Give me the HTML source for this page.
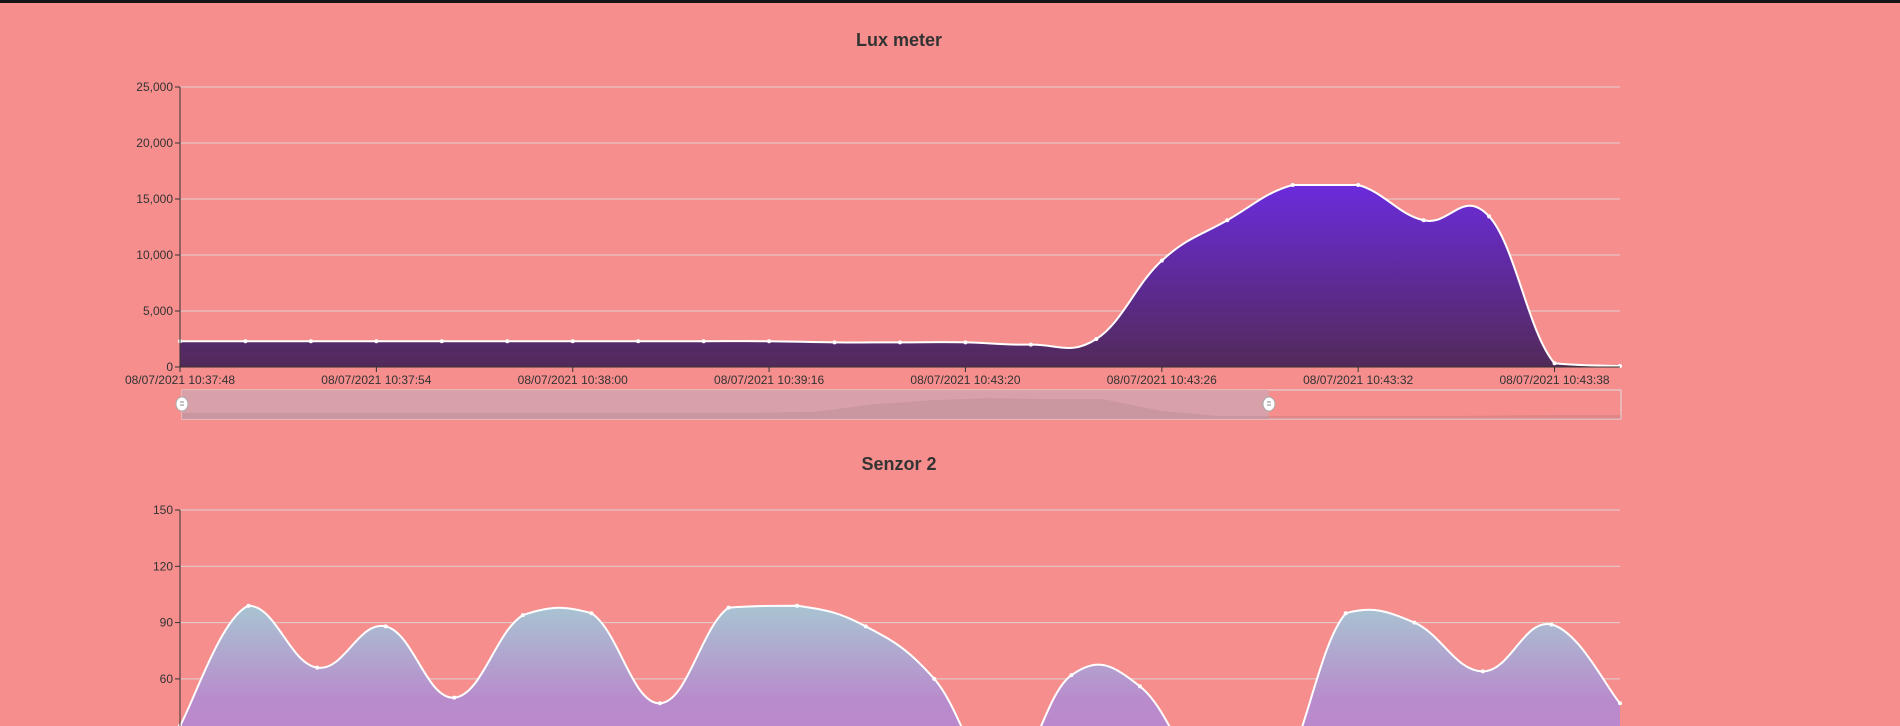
<!DOCTYPE html>
<html><head><meta charset="utf-8">
<style>
html,body{margin:0;padding:0;background:#f68e8e;width:1900px;height:726px;overflow:hidden}
svg{display:block;font-family:"Liberation Sans",sans-serif}
</style></head>
<body>
<svg id="c" width="1900" height="726" viewBox="0 0 1900 726" overflow="hidden">
<defs>
<linearGradient id="g1" x1="0" y1="0" x2="0" y2="1"><stop offset="0" stop-color="#6b2bdc"/><stop offset="1" stop-color="#522a58"/></linearGradient>
<linearGradient id="g2" x1="0" y1="0" x2="0" y2="1"><stop offset="0" stop-color="#a8c4d2"/><stop offset="0.5" stop-color="#b88ccc"/><stop offset="1" stop-color="#c080d0"/></linearGradient>
<clipPath id="clipAll"><rect x="0" y="0" width="1900" height="726"/></clipPath>
</defs>
<g clip-path="url(#clipAll)">
<rect x="0" y="0" width="1900" height="3" fill="#141414"/>
<text x="899" y="46" text-anchor="middle" font-size="18" font-weight="bold" fill="#333">Lux meter</text>
<text x="899" y="470" text-anchor="middle" font-size="18" font-weight="bold" fill="#333">Senzor 2</text>
<g id="ch1"></g>
<g id="sl"></g>
<g id="ch2"></g>
</g>
</svg>
<script>
const luxCategories=["08/07/2021 10:37:48","08/07/2021 10:37:50","08/07/2021 10:37:52","08/07/2021 10:37:54","08/07/2021 10:37:56","08/07/2021 10:37:58","08/07/2021 10:38:00","08/07/2021 10:38:02","08/07/2021 10:39:14","08/07/2021 10:39:16","08/07/2021 10:39:18","08/07/2021 10:43:18","08/07/2021 10:43:20","08/07/2021 10:43:22","08/07/2021 10:43:24","08/07/2021 10:43:26","08/07/2021 10:43:28","08/07/2021 10:43:30","08/07/2021 10:43:32","08/07/2021 10:43:34","08/07/2021 10:43:36","08/07/2021 10:43:38","08/07/2021 10:43:40"];
const luxValues=[2300,2300,2300,2300,2300,2300,2300,2300,2300,2300,2200,2200,2200,2000,2500,9500,13100,16250,16250,13100,13450,330,90];
const luxTicks=[0,5000,10000,15000,20000,25000];
const senzorValues=[35,99,66,88,50,94,95,47,98,99,88,60,5,62,56,5,5,95,90,64,89,47];
const senzorTicks=[60,90,120,150];
const sliderShadow=[20,20,20,20,20,20,20,20,20,20,20,25,60,80,90,85,85,30,5,5,5,5,5,8,10,10];
const NS="http://www.w3.org/2000/svg";
function mk(p,t,a){const e=document.createElementNS(NS,t);for(const k in a)e.setAttribute(k,a[k]);p.appendChild(e);return e;}
function smooth(pts){let d="M"+pts[0][0]+","+pts[0][1];const f=0.2;
const ysAll=pts.map(p=>p[1]),lo=Math.min(...ysAll),hi=Math.max(...ysAll);
const cl=v=>Math.max(lo,Math.min(hi,v));
for(let i=0;i<pts.length-1;i++){const p0=pts[i-1]||pts[i],p1=pts[i],p2=pts[i+1],p3=pts[i+2]||p2;
const c1=[p1[0]+(p2[0]-p0[0])*f,cl(p1[1]+(p2[1]-p0[1])*f)],c2=[p2[0]-(p3[0]-p1[0])*f,cl(p2[1]-(p3[1]-p1[1])*f)];
d+=" C"+c1[0]+","+c1[1]+" "+c2[0]+","+c2[1]+" "+p2[0]+","+p2[1];}return d;}
function chart(g,vals,ticks,ymax,yTop,yZero,grad,cats,fmt,axisBottom){
const x0=180,x1=1620,n=vals.length;
const xs=i=>x0+(x1-x0)*i/(n-1), ys=v=>yZero-(yZero-yTop)*v/ymax;
ticks.forEach(t=>{const y=ys(t);
const l=mk(g,"line",{x1:x0,x2:x1,y1:y,y2:y,stroke:"#e0d0d0","stroke-width":1});

const tk=mk(g,"line",{x1:x0-5,x2:x0,y1:y,y2:y,stroke:"#333"});

const tx=mk(g,"text",{x:x0-7,y:y+4,"text-anchor":"end","font-size":12,fill:"#333"});tx.textContent=fmt(t);
});
const pts=vals.map((v,i)=>[xs(i),ys(v)]);
const line=smooth(pts);
const area=mk(g,"path",{d:line+" L"+x1+","+yZero+" L"+x0+","+yZero+" Z",fill:grad});

const ln=mk(g,"path",{d:line,fill:"none",stroke:"#fff","stroke-width":2});

pts.forEach(p=>{const c=mk(g,"circle",{cx:p[0],cy:p[1],r:2,fill:"#fff"});
});
const ax=mk(g,"line",{x1:x0,x2:x0,y1:yTop,y2:Math.min(yZero,726),stroke:"#333"});

if(axisBottom){const xa=mk(g,"line",{x1:x0,x2:x1,y1:yZero,y2:yZero,stroke:"#333"});

cats.forEach((c,i)=>{if(i%3)return;const x=xs(i);
const tk=mk(g,"line",{x1:x,x2:x,y1:yZero,y2:yZero+5,stroke:"#333"});

const tx=mk(g,"text",{x:x,y:yZero+17,"text-anchor":"middle","font-size":12,fill:"#333"});tx.textContent=c;
});}
}
chart(document.getElementById("ch1"),luxValues,luxTicks,25000,87,367,"url(#g1)",luxCategories,t=>t.toLocaleString("en-US"),true);
chart(document.getElementById("ch2"),senzorValues,senzorTicks,150,510,791.5,"url(#g2)",[],t=>String(t),false);
// slider
const sl=document.getElementById("sl");
const sx0=182,sx1=1621,sy0=390,sy1=419,hx=1269;
const bg=mk(sl,"rect",{x:sx0,y:sy0,width:sx1-sx0,height:sy1-sy0,fill:"none",stroke:"#ddd"});

const sp=sliderShadow.map((v,i)=>[sx0+(sx1-sx0)*i/(sliderShadow.length-1),sy1-2-(sy1-sy0-8)*v/100]);
const sel=mk(sl,"rect",{x:sx0,y:sy0,width:hx-sx0,height:sy1-sy0,fill:"rgba(214,162,172,0.95)"});

const sh=mk(sl,"path",{d:"M"+sx0+","+sy1+" L"+sp.map(p=>p.join(",")).join(" L")+" L"+sx1+","+sy1+" Z",fill:"rgba(150,110,120,0.2)"});

[sx0,hx].forEach(x=>{const h=mk(sl,"ellipse",{cx:x,cy:404,rx:6,ry:7,fill:"#fff",stroke:"#aaa"});

const m=mk(sl,"path",{d:`M${x-2},402 h4 M${x-2},405 h4`,stroke:"#888","stroke-width":1});
});
</script>
</body></html>
